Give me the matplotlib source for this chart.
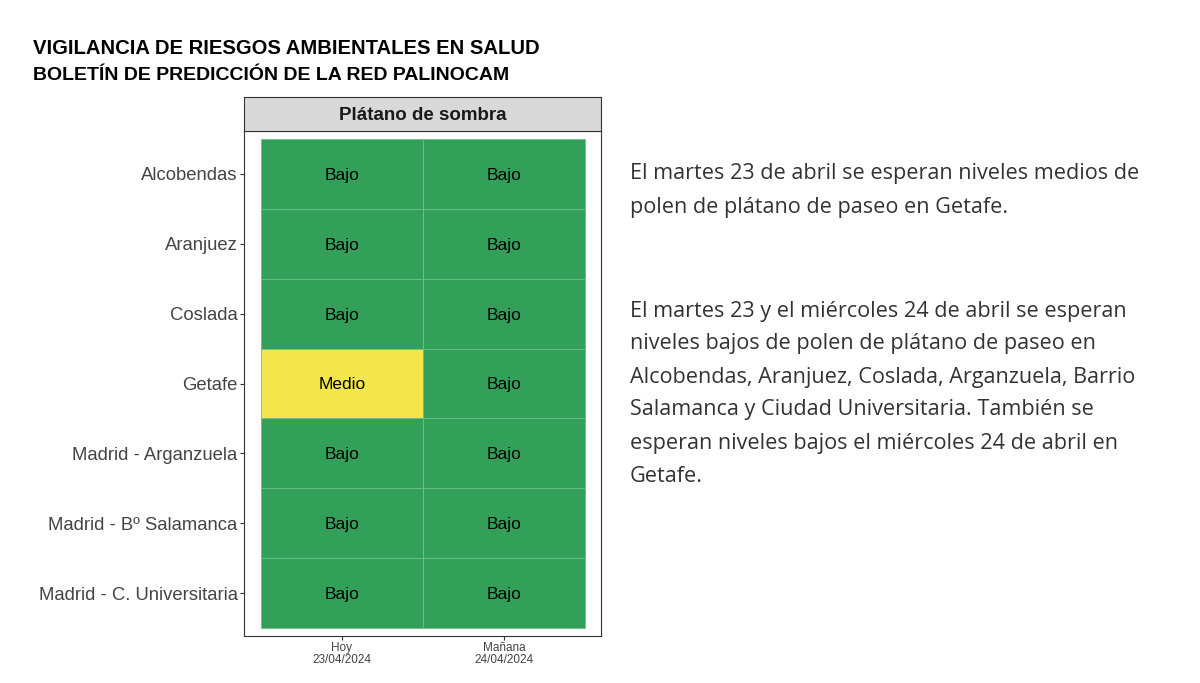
import matplotlib
matplotlib.use("Agg")
import matplotlib.pyplot as plt
from matplotlib.patches import Rectangle

stations = ["Alcobendas", "Aranjuez", "Coslada", "Getafe", "Madrid - Arganzuela",
            "Madrid - Bº Salamanca", "Madrid - C. Universitaria"]
days = ["Hoy\n23/04/2024", "Mañana\n24/04/2024"]
hoy = ["Bajo", "Bajo", "Bajo", "Medio", "Bajo", "Bajo", "Bajo"]
manana = ["Bajo", "Bajo", "Bajo", "Bajo", "Bajo", "Bajo", "Bajo"]
level_colors = {"Bajo": "#33a05a", "Medio": "#f2e64c"}

fig = plt.figure(figsize=(12, 6.83), dpi=100)
W, H = 1200, 683
ax = fig.add_axes([244/W, 1-636/H, 357/W, 505/H])
ax.set_xlim(0.5-17/162, 2.5+16/162)
ax.set_ylim(6.5+8/70, -0.5-8/70)
for c, col in enumerate([hoy, manana]):
    for r, v in enumerate(col):
        ax.add_patch(Rectangle((c+0.5, r-0.5), 1, 1, facecolor=level_colors[v],
                               edgecolor="#6cc08a", lw=0.6))
        ax.text(c+1, r+0.02, v, ha="center", va="center", fontsize=12.5, family="Liberation Sans")
ax.set_xticks([1, 2])
ax.set_xticklabels(days, fontsize=8.5, color="#444444", family="Liberation Sans", linespacing=0.95)
ax.set_yticks(range(len(stations)))
ax.set_yticklabels(stations, fontsize=13.3, color="#444444", family="Liberation Sans")
ax.tick_params(length=3, color="#333333", pad=1.5)
for s in ax.spines.values():
    s.set_color("#333333"); s.set_linewidth(0.8)

sax = fig.add_axes([244/W, 1-131/H, 357/W, 34/H])
sax.set_facecolor("#d9d9d9")
sax.set_xticks([]); sax.set_yticks([])
for s in sax.spines.values():
    s.set_color("#333333"); s.set_linewidth(0.8)
sax.text(0.5, 0.45, "Plátano de sombra", ha="center", va="center", fontsize=13.5,
         fontweight="bold", family="Liberation Sans", color="#1a1a1a", transform=sax.transAxes)

fig.text(33/W, 1-48/H, "VIGILANCIA DE RIESGOS AMBIENTALES EN SALUD", fontsize=14.6,
         fontweight="bold", family="Liberation Sans", va="center")
fig.text(33/W, 1-76/H, "BOLETÍN DE PREDICCIÓN DE LA RED PALINOCAM", fontsize=14,
         fontweight="bold", family="Liberation Sans", va="center")

lines1 = ["El martes 23 de abril se esperan niveles medios de",
          "polen de plátano de paseo en Getafe."]
lines2 = ["El martes 23 y el miércoles 24 de abril se esperan",
          "niveles bajos de polen de plátano de paseo en",
          "Alcobendas, Aranjuez, Coslada, Arganzuela, Barrio",
          "Salamanca y Ciudad Universitaria. También se",
          "esperan niveles bajos el miércoles 24 de abril en",
          "Getafe."]
for i, t in enumerate(lines1):
    fig.text(630/W, 1-(173+34*i)/H, t, fontsize=15.6, family="Open Sans", color="#333333", va="center")
for i, t in enumerate(lines2):
    fig.text(630/W, 1-(311+33*i)/H, t, fontsize=15.6, family="Open Sans", color="#333333", va="center")

fig.savefig("out.png", dpi=100, facecolor="white")
